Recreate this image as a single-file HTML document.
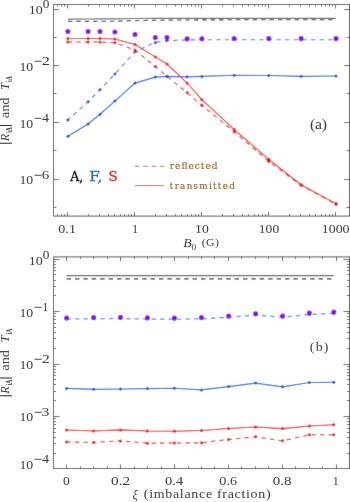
<!DOCTYPE html>
<html><head><meta charset="utf-8"><style>
html,body{margin:0;padding:0;background:#fff;}
body{width:350px;height:502px;overflow:hidden;}
svg{display:block;}
</style></head><body>
<svg width="350" height="502" viewBox="0 0 350 502"><defs><filter id="bl" x="0" y="0" width="100%" height="100%" filterUnits="userSpaceOnUse"><feConvolveMatrix order="3" kernelMatrix="0.015 0.055 0.015 0.055 0.72 0.055 0.015 0.055 0.015" edgeMode="duplicate" preserveAlpha="true"/></filter></defs><rect width="350" height="502" fill="#fff"/><g filter="url(#bl)"><rect width="350" height="502" fill="#fff"/><rect x="53.5" y="4.5" width="296.0" height="211.6" fill="none" stroke="#555" stroke-width="1"/>
<line x1="53.50" y1="9.50" x2="59.00" y2="9.50" stroke="#555" stroke-width="1.0" />
<line x1="349.50" y1="9.50" x2="344.00" y2="9.50" stroke="#555" stroke-width="1.0" />
<line x1="53.50" y1="37.50" x2="56.50" y2="37.50" stroke="#555" stroke-width="1.0" />
<line x1="349.50" y1="37.50" x2="346.50" y2="37.50" stroke="#555" stroke-width="1.0" />
<line x1="53.50" y1="65.50" x2="59.00" y2="65.50" stroke="#555" stroke-width="1.0" />
<line x1="349.50" y1="65.50" x2="344.00" y2="65.50" stroke="#555" stroke-width="1.0" />
<line x1="53.50" y1="93.50" x2="56.50" y2="93.50" stroke="#555" stroke-width="1.0" />
<line x1="349.50" y1="93.50" x2="346.50" y2="93.50" stroke="#555" stroke-width="1.0" />
<line x1="53.50" y1="122.50" x2="59.00" y2="122.50" stroke="#555" stroke-width="1.0" />
<line x1="349.50" y1="122.50" x2="344.00" y2="122.50" stroke="#555" stroke-width="1.0" />
<line x1="53.50" y1="150.50" x2="56.50" y2="150.50" stroke="#555" stroke-width="1.0" />
<line x1="349.50" y1="150.50" x2="346.50" y2="150.50" stroke="#555" stroke-width="1.0" />
<line x1="53.50" y1="179.50" x2="59.00" y2="179.50" stroke="#555" stroke-width="1.0" />
<line x1="349.50" y1="179.50" x2="344.00" y2="179.50" stroke="#555" stroke-width="1.0" />
<line x1="53.50" y1="207.50" x2="56.50" y2="207.50" stroke="#555" stroke-width="1.0" />
<line x1="349.50" y1="207.50" x2="346.50" y2="207.50" stroke="#555" stroke-width="1.0" />
<line x1="57.50" y1="216.10" x2="57.50" y2="214.10" stroke="#555" stroke-width="1.0" />
<line x1="57.50" y1="4.50" x2="57.50" y2="6.50" stroke="#555" stroke-width="1.0" />
<line x1="61.50" y1="216.10" x2="61.50" y2="214.10" stroke="#555" stroke-width="1.0" />
<line x1="61.50" y1="4.50" x2="61.50" y2="6.50" stroke="#555" stroke-width="1.0" />
<line x1="64.50" y1="216.10" x2="64.50" y2="214.10" stroke="#555" stroke-width="1.0" />
<line x1="64.50" y1="4.50" x2="64.50" y2="6.50" stroke="#555" stroke-width="1.0" />
<line x1="67.50" y1="216.10" x2="67.50" y2="212.10" stroke="#555" stroke-width="1.0" />
<line x1="67.50" y1="4.50" x2="67.50" y2="8.50" stroke="#555" stroke-width="1.0" />
<line x1="88.50" y1="216.10" x2="88.50" y2="214.10" stroke="#555" stroke-width="1.0" />
<line x1="88.50" y1="4.50" x2="88.50" y2="6.50" stroke="#555" stroke-width="1.0" />
<line x1="99.50" y1="216.10" x2="99.50" y2="214.10" stroke="#555" stroke-width="1.0" />
<line x1="99.50" y1="4.50" x2="99.50" y2="6.50" stroke="#555" stroke-width="1.0" />
<line x1="108.50" y1="216.10" x2="108.50" y2="214.10" stroke="#555" stroke-width="1.0" />
<line x1="108.50" y1="4.50" x2="108.50" y2="6.50" stroke="#555" stroke-width="1.0" />
<line x1="114.50" y1="216.10" x2="114.50" y2="214.10" stroke="#555" stroke-width="1.0" />
<line x1="114.50" y1="4.50" x2="114.50" y2="6.50" stroke="#555" stroke-width="1.0" />
<line x1="120.50" y1="216.10" x2="120.50" y2="214.10" stroke="#555" stroke-width="1.0" />
<line x1="120.50" y1="4.50" x2="120.50" y2="6.50" stroke="#555" stroke-width="1.0" />
<line x1="124.50" y1="216.10" x2="124.50" y2="214.10" stroke="#555" stroke-width="1.0" />
<line x1="124.50" y1="4.50" x2="124.50" y2="6.50" stroke="#555" stroke-width="1.0" />
<line x1="128.50" y1="216.10" x2="128.50" y2="214.10" stroke="#555" stroke-width="1.0" />
<line x1="128.50" y1="4.50" x2="128.50" y2="6.50" stroke="#555" stroke-width="1.0" />
<line x1="131.50" y1="216.10" x2="131.50" y2="214.10" stroke="#555" stroke-width="1.0" />
<line x1="131.50" y1="4.50" x2="131.50" y2="6.50" stroke="#555" stroke-width="1.0" />
<line x1="134.50" y1="216.10" x2="134.50" y2="212.10" stroke="#555" stroke-width="1.0" />
<line x1="134.50" y1="4.50" x2="134.50" y2="8.50" stroke="#555" stroke-width="1.0" />
<line x1="155.50" y1="216.10" x2="155.50" y2="214.10" stroke="#555" stroke-width="1.0" />
<line x1="155.50" y1="4.50" x2="155.50" y2="6.50" stroke="#555" stroke-width="1.0" />
<line x1="166.50" y1="216.10" x2="166.50" y2="214.10" stroke="#555" stroke-width="1.0" />
<line x1="166.50" y1="4.50" x2="166.50" y2="6.50" stroke="#555" stroke-width="1.0" />
<line x1="175.50" y1="216.10" x2="175.50" y2="214.10" stroke="#555" stroke-width="1.0" />
<line x1="175.50" y1="4.50" x2="175.50" y2="6.50" stroke="#555" stroke-width="1.0" />
<line x1="181.50" y1="216.10" x2="181.50" y2="214.10" stroke="#555" stroke-width="1.0" />
<line x1="181.50" y1="4.50" x2="181.50" y2="6.50" stroke="#555" stroke-width="1.0" />
<line x1="187.50" y1="216.10" x2="187.50" y2="214.10" stroke="#555" stroke-width="1.0" />
<line x1="187.50" y1="4.50" x2="187.50" y2="6.50" stroke="#555" stroke-width="1.0" />
<line x1="191.50" y1="216.10" x2="191.50" y2="214.10" stroke="#555" stroke-width="1.0" />
<line x1="191.50" y1="4.50" x2="191.50" y2="6.50" stroke="#555" stroke-width="1.0" />
<line x1="195.50" y1="216.10" x2="195.50" y2="214.10" stroke="#555" stroke-width="1.0" />
<line x1="195.50" y1="4.50" x2="195.50" y2="6.50" stroke="#555" stroke-width="1.0" />
<line x1="198.50" y1="216.10" x2="198.50" y2="214.10" stroke="#555" stroke-width="1.0" />
<line x1="198.50" y1="4.50" x2="198.50" y2="6.50" stroke="#555" stroke-width="1.0" />
<line x1="201.50" y1="216.10" x2="201.50" y2="212.10" stroke="#555" stroke-width="1.0" />
<line x1="201.50" y1="4.50" x2="201.50" y2="8.50" stroke="#555" stroke-width="1.0" />
<line x1="222.50" y1="216.10" x2="222.50" y2="214.10" stroke="#555" stroke-width="1.0" />
<line x1="222.50" y1="4.50" x2="222.50" y2="6.50" stroke="#555" stroke-width="1.0" />
<line x1="233.50" y1="216.10" x2="233.50" y2="214.10" stroke="#555" stroke-width="1.0" />
<line x1="233.50" y1="4.50" x2="233.50" y2="6.50" stroke="#555" stroke-width="1.0" />
<line x1="242.50" y1="216.10" x2="242.50" y2="214.10" stroke="#555" stroke-width="1.0" />
<line x1="242.50" y1="4.50" x2="242.50" y2="6.50" stroke="#555" stroke-width="1.0" />
<line x1="248.50" y1="216.10" x2="248.50" y2="214.10" stroke="#555" stroke-width="1.0" />
<line x1="248.50" y1="4.50" x2="248.50" y2="6.50" stroke="#555" stroke-width="1.0" />
<line x1="254.50" y1="216.10" x2="254.50" y2="214.10" stroke="#555" stroke-width="1.0" />
<line x1="254.50" y1="4.50" x2="254.50" y2="6.50" stroke="#555" stroke-width="1.0" />
<line x1="258.50" y1="216.10" x2="258.50" y2="214.10" stroke="#555" stroke-width="1.0" />
<line x1="258.50" y1="4.50" x2="258.50" y2="6.50" stroke="#555" stroke-width="1.0" />
<line x1="262.50" y1="216.10" x2="262.50" y2="214.10" stroke="#555" stroke-width="1.0" />
<line x1="262.50" y1="4.50" x2="262.50" y2="6.50" stroke="#555" stroke-width="1.0" />
<line x1="265.50" y1="216.10" x2="265.50" y2="214.10" stroke="#555" stroke-width="1.0" />
<line x1="265.50" y1="4.50" x2="265.50" y2="6.50" stroke="#555" stroke-width="1.0" />
<line x1="268.50" y1="216.10" x2="268.50" y2="212.10" stroke="#555" stroke-width="1.0" />
<line x1="268.50" y1="4.50" x2="268.50" y2="8.50" stroke="#555" stroke-width="1.0" />
<line x1="289.50" y1="216.10" x2="289.50" y2="214.10" stroke="#555" stroke-width="1.0" />
<line x1="289.50" y1="4.50" x2="289.50" y2="6.50" stroke="#555" stroke-width="1.0" />
<line x1="300.50" y1="216.10" x2="300.50" y2="214.10" stroke="#555" stroke-width="1.0" />
<line x1="300.50" y1="4.50" x2="300.50" y2="6.50" stroke="#555" stroke-width="1.0" />
<line x1="309.50" y1="216.10" x2="309.50" y2="214.10" stroke="#555" stroke-width="1.0" />
<line x1="309.50" y1="4.50" x2="309.50" y2="6.50" stroke="#555" stroke-width="1.0" />
<line x1="315.50" y1="216.10" x2="315.50" y2="214.10" stroke="#555" stroke-width="1.0" />
<line x1="315.50" y1="4.50" x2="315.50" y2="6.50" stroke="#555" stroke-width="1.0" />
<line x1="321.50" y1="216.10" x2="321.50" y2="214.10" stroke="#555" stroke-width="1.0" />
<line x1="321.50" y1="4.50" x2="321.50" y2="6.50" stroke="#555" stroke-width="1.0" />
<line x1="325.50" y1="216.10" x2="325.50" y2="214.10" stroke="#555" stroke-width="1.0" />
<line x1="325.50" y1="4.50" x2="325.50" y2="6.50" stroke="#555" stroke-width="1.0" />
<line x1="329.50" y1="216.10" x2="329.50" y2="214.10" stroke="#555" stroke-width="1.0" />
<line x1="329.50" y1="4.50" x2="329.50" y2="6.50" stroke="#555" stroke-width="1.0" />
<line x1="332.50" y1="216.10" x2="332.50" y2="214.10" stroke="#555" stroke-width="1.0" />
<line x1="332.50" y1="4.50" x2="332.50" y2="6.50" stroke="#555" stroke-width="1.0" />
<line x1="335.50" y1="216.10" x2="335.50" y2="212.10" stroke="#555" stroke-width="1.0" />
<line x1="335.50" y1="4.50" x2="335.50" y2="8.50" stroke="#555" stroke-width="1.0" />
<rect x="53.5" y="256.9" width="296.0" height="211.60000000000002" fill="none" stroke="#555" stroke-width="1"/>
<line x1="53.50" y1="259.50" x2="59.50" y2="259.50" stroke="#555" stroke-width="1.0" />
<line x1="349.50" y1="259.50" x2="343.50" y2="259.50" stroke="#555" stroke-width="1.0" />
<line x1="53.50" y1="311.50" x2="59.50" y2="311.50" stroke="#555" stroke-width="1.0" />
<line x1="349.50" y1="311.50" x2="343.50" y2="311.50" stroke="#555" stroke-width="1.0" />
<line x1="53.50" y1="295.50" x2="56.00" y2="295.50" stroke="#555" stroke-width="1.0" />
<line x1="349.50" y1="295.50" x2="347.00" y2="295.50" stroke="#555" stroke-width="1.0" />
<line x1="53.50" y1="286.50" x2="56.00" y2="286.50" stroke="#555" stroke-width="1.0" />
<line x1="349.50" y1="286.50" x2="347.00" y2="286.50" stroke="#555" stroke-width="1.0" />
<line x1="53.50" y1="280.50" x2="56.00" y2="280.50" stroke="#555" stroke-width="1.0" />
<line x1="349.50" y1="280.50" x2="347.00" y2="280.50" stroke="#555" stroke-width="1.0" />
<line x1="53.50" y1="274.50" x2="56.00" y2="274.50" stroke="#555" stroke-width="1.0" />
<line x1="349.50" y1="274.50" x2="347.00" y2="274.50" stroke="#555" stroke-width="1.0" />
<line x1="53.50" y1="270.50" x2="56.00" y2="270.50" stroke="#555" stroke-width="1.0" />
<line x1="349.50" y1="270.50" x2="347.00" y2="270.50" stroke="#555" stroke-width="1.0" />
<line x1="53.50" y1="267.50" x2="56.00" y2="267.50" stroke="#555" stroke-width="1.0" />
<line x1="349.50" y1="267.50" x2="347.00" y2="267.50" stroke="#555" stroke-width="1.0" />
<line x1="53.50" y1="264.50" x2="56.00" y2="264.50" stroke="#555" stroke-width="1.0" />
<line x1="349.50" y1="264.50" x2="347.00" y2="264.50" stroke="#555" stroke-width="1.0" />
<line x1="53.50" y1="261.50" x2="56.00" y2="261.50" stroke="#555" stroke-width="1.0" />
<line x1="349.50" y1="261.50" x2="347.00" y2="261.50" stroke="#555" stroke-width="1.0" />
<line x1="53.50" y1="364.50" x2="59.50" y2="364.50" stroke="#555" stroke-width="1.0" />
<line x1="349.50" y1="364.50" x2="343.50" y2="364.50" stroke="#555" stroke-width="1.0" />
<line x1="53.50" y1="348.50" x2="56.00" y2="348.50" stroke="#555" stroke-width="1.0" />
<line x1="349.50" y1="348.50" x2="347.00" y2="348.50" stroke="#555" stroke-width="1.0" />
<line x1="53.50" y1="338.50" x2="56.00" y2="338.50" stroke="#555" stroke-width="1.0" />
<line x1="349.50" y1="338.50" x2="347.00" y2="338.50" stroke="#555" stroke-width="1.0" />
<line x1="53.50" y1="332.50" x2="56.00" y2="332.50" stroke="#555" stroke-width="1.0" />
<line x1="349.50" y1="332.50" x2="347.00" y2="332.50" stroke="#555" stroke-width="1.0" />
<line x1="53.50" y1="327.50" x2="56.00" y2="327.50" stroke="#555" stroke-width="1.0" />
<line x1="349.50" y1="327.50" x2="347.00" y2="327.50" stroke="#555" stroke-width="1.0" />
<line x1="53.50" y1="323.50" x2="56.00" y2="323.50" stroke="#555" stroke-width="1.0" />
<line x1="349.50" y1="323.50" x2="347.00" y2="323.50" stroke="#555" stroke-width="1.0" />
<line x1="53.50" y1="319.50" x2="56.00" y2="319.50" stroke="#555" stroke-width="1.0" />
<line x1="349.50" y1="319.50" x2="347.00" y2="319.50" stroke="#555" stroke-width="1.0" />
<line x1="53.50" y1="316.50" x2="56.00" y2="316.50" stroke="#555" stroke-width="1.0" />
<line x1="349.50" y1="316.50" x2="347.00" y2="316.50" stroke="#555" stroke-width="1.0" />
<line x1="53.50" y1="313.50" x2="56.00" y2="313.50" stroke="#555" stroke-width="1.0" />
<line x1="349.50" y1="313.50" x2="347.00" y2="313.50" stroke="#555" stroke-width="1.0" />
<line x1="53.50" y1="416.50" x2="59.50" y2="416.50" stroke="#555" stroke-width="1.0" />
<line x1="349.50" y1="416.50" x2="343.50" y2="416.50" stroke="#555" stroke-width="1.0" />
<line x1="53.50" y1="400.50" x2="56.00" y2="400.50" stroke="#555" stroke-width="1.0" />
<line x1="349.50" y1="400.50" x2="347.00" y2="400.50" stroke="#555" stroke-width="1.0" />
<line x1="53.50" y1="391.50" x2="56.00" y2="391.50" stroke="#555" stroke-width="1.0" />
<line x1="349.50" y1="391.50" x2="347.00" y2="391.50" stroke="#555" stroke-width="1.0" />
<line x1="53.50" y1="384.50" x2="56.00" y2="384.50" stroke="#555" stroke-width="1.0" />
<line x1="349.50" y1="384.50" x2="347.00" y2="384.50" stroke="#555" stroke-width="1.0" />
<line x1="53.50" y1="379.50" x2="56.00" y2="379.50" stroke="#555" stroke-width="1.0" />
<line x1="349.50" y1="379.50" x2="347.00" y2="379.50" stroke="#555" stroke-width="1.0" />
<line x1="53.50" y1="375.50" x2="56.00" y2="375.50" stroke="#555" stroke-width="1.0" />
<line x1="349.50" y1="375.50" x2="347.00" y2="375.50" stroke="#555" stroke-width="1.0" />
<line x1="53.50" y1="372.50" x2="56.00" y2="372.50" stroke="#555" stroke-width="1.0" />
<line x1="349.50" y1="372.50" x2="347.00" y2="372.50" stroke="#555" stroke-width="1.0" />
<line x1="53.50" y1="369.50" x2="56.00" y2="369.50" stroke="#555" stroke-width="1.0" />
<line x1="349.50" y1="369.50" x2="347.00" y2="369.50" stroke="#555" stroke-width="1.0" />
<line x1="53.50" y1="366.50" x2="56.00" y2="366.50" stroke="#555" stroke-width="1.0" />
<line x1="349.50" y1="366.50" x2="347.00" y2="366.50" stroke="#555" stroke-width="1.0" />
<line x1="53.50" y1="453.50" x2="56.00" y2="453.50" stroke="#555" stroke-width="1.0" />
<line x1="349.50" y1="453.50" x2="347.00" y2="453.50" stroke="#555" stroke-width="1.0" />
<line x1="53.50" y1="443.50" x2="56.00" y2="443.50" stroke="#555" stroke-width="1.0" />
<line x1="349.50" y1="443.50" x2="347.00" y2="443.50" stroke="#555" stroke-width="1.0" />
<line x1="53.50" y1="437.50" x2="56.00" y2="437.50" stroke="#555" stroke-width="1.0" />
<line x1="349.50" y1="437.50" x2="347.00" y2="437.50" stroke="#555" stroke-width="1.0" />
<line x1="53.50" y1="432.50" x2="56.00" y2="432.50" stroke="#555" stroke-width="1.0" />
<line x1="349.50" y1="432.50" x2="347.00" y2="432.50" stroke="#555" stroke-width="1.0" />
<line x1="53.50" y1="428.50" x2="56.00" y2="428.50" stroke="#555" stroke-width="1.0" />
<line x1="349.50" y1="428.50" x2="347.00" y2="428.50" stroke="#555" stroke-width="1.0" />
<line x1="53.50" y1="424.50" x2="56.00" y2="424.50" stroke="#555" stroke-width="1.0" />
<line x1="349.50" y1="424.50" x2="347.00" y2="424.50" stroke="#555" stroke-width="1.0" />
<line x1="53.50" y1="421.50" x2="56.00" y2="421.50" stroke="#555" stroke-width="1.0" />
<line x1="349.50" y1="421.50" x2="347.00" y2="421.50" stroke="#555" stroke-width="1.0" />
<line x1="53.50" y1="418.50" x2="56.00" y2="418.50" stroke="#555" stroke-width="1.0" />
<line x1="349.50" y1="418.50" x2="347.00" y2="418.50" stroke="#555" stroke-width="1.0" />
<line x1="66.50" y1="468.50" x2="66.50" y2="464.50" stroke="#555" stroke-width="1.0" />
<line x1="66.50" y1="256.90" x2="66.50" y2="260.90" stroke="#555" stroke-width="1.0" />
<line x1="80.50" y1="468.50" x2="80.50" y2="466.50" stroke="#555" stroke-width="1.0" />
<line x1="80.50" y1="256.90" x2="80.50" y2="258.90" stroke="#555" stroke-width="1.0" />
<line x1="93.50" y1="468.50" x2="93.50" y2="466.50" stroke="#555" stroke-width="1.0" />
<line x1="93.50" y1="256.90" x2="93.50" y2="258.90" stroke="#555" stroke-width="1.0" />
<line x1="107.50" y1="468.50" x2="107.50" y2="466.50" stroke="#555" stroke-width="1.0" />
<line x1="107.50" y1="256.90" x2="107.50" y2="258.90" stroke="#555" stroke-width="1.0" />
<line x1="120.50" y1="468.50" x2="120.50" y2="464.50" stroke="#555" stroke-width="1.0" />
<line x1="120.50" y1="256.90" x2="120.50" y2="260.90" stroke="#555" stroke-width="1.0" />
<line x1="134.50" y1="468.50" x2="134.50" y2="466.50" stroke="#555" stroke-width="1.0" />
<line x1="134.50" y1="256.90" x2="134.50" y2="258.90" stroke="#555" stroke-width="1.0" />
<line x1="147.50" y1="468.50" x2="147.50" y2="466.50" stroke="#555" stroke-width="1.0" />
<line x1="147.50" y1="256.90" x2="147.50" y2="258.90" stroke="#555" stroke-width="1.0" />
<line x1="161.50" y1="468.50" x2="161.50" y2="466.50" stroke="#555" stroke-width="1.0" />
<line x1="161.50" y1="256.90" x2="161.50" y2="258.90" stroke="#555" stroke-width="1.0" />
<line x1="174.50" y1="468.50" x2="174.50" y2="464.50" stroke="#555" stroke-width="1.0" />
<line x1="174.50" y1="256.90" x2="174.50" y2="260.90" stroke="#555" stroke-width="1.0" />
<line x1="188.50" y1="468.50" x2="188.50" y2="466.50" stroke="#555" stroke-width="1.0" />
<line x1="188.50" y1="256.90" x2="188.50" y2="258.90" stroke="#555" stroke-width="1.0" />
<line x1="201.50" y1="468.50" x2="201.50" y2="466.50" stroke="#555" stroke-width="1.0" />
<line x1="201.50" y1="256.90" x2="201.50" y2="258.90" stroke="#555" stroke-width="1.0" />
<line x1="214.50" y1="468.50" x2="214.50" y2="466.50" stroke="#555" stroke-width="1.0" />
<line x1="214.50" y1="256.90" x2="214.50" y2="258.90" stroke="#555" stroke-width="1.0" />
<line x1="228.50" y1="468.50" x2="228.50" y2="464.50" stroke="#555" stroke-width="1.0" />
<line x1="228.50" y1="256.90" x2="228.50" y2="260.90" stroke="#555" stroke-width="1.0" />
<line x1="241.50" y1="468.50" x2="241.50" y2="466.50" stroke="#555" stroke-width="1.0" />
<line x1="241.50" y1="256.90" x2="241.50" y2="258.90" stroke="#555" stroke-width="1.0" />
<line x1="255.50" y1="468.50" x2="255.50" y2="466.50" stroke="#555" stroke-width="1.0" />
<line x1="255.50" y1="256.90" x2="255.50" y2="258.90" stroke="#555" stroke-width="1.0" />
<line x1="268.50" y1="468.50" x2="268.50" y2="466.50" stroke="#555" stroke-width="1.0" />
<line x1="268.50" y1="256.90" x2="268.50" y2="258.90" stroke="#555" stroke-width="1.0" />
<line x1="282.50" y1="468.50" x2="282.50" y2="464.50" stroke="#555" stroke-width="1.0" />
<line x1="282.50" y1="256.90" x2="282.50" y2="260.90" stroke="#555" stroke-width="1.0" />
<line x1="295.50" y1="468.50" x2="295.50" y2="466.50" stroke="#555" stroke-width="1.0" />
<line x1="295.50" y1="256.90" x2="295.50" y2="258.90" stroke="#555" stroke-width="1.0" />
<line x1="309.50" y1="468.50" x2="309.50" y2="466.50" stroke="#555" stroke-width="1.0" />
<line x1="309.50" y1="256.90" x2="309.50" y2="258.90" stroke="#555" stroke-width="1.0" />
<line x1="322.50" y1="468.50" x2="322.50" y2="466.50" stroke="#555" stroke-width="1.0" />
<line x1="322.50" y1="256.90" x2="322.50" y2="258.90" stroke="#555" stroke-width="1.0" />
<line x1="336.50" y1="468.50" x2="336.50" y2="464.50" stroke="#555" stroke-width="1.0" />
<line x1="336.50" y1="256.90" x2="336.50" y2="260.90" stroke="#555" stroke-width="1.0" />
<polyline points="67.90,21.40 88.10,21.40 100.00,21.30 114.90,21.20 135.00,20.60 155.30,20.30 167.00,20.10 187.10,20.00 201.90,19.90 234.10,19.80 268.80,19.80 301.10,19.70 336.00,19.70" fill="none" stroke="#404040" stroke-width="1.1" stroke-dasharray="4.4,4.0" stroke-opacity="1.0"/>
<polyline points="67.90,120.00 88.10,101.70 100.00,89.70 114.90,74.00 135.00,51.70 155.30,42.40 167.00,40.60 187.10,40.00 201.90,39.70 234.10,39.70 268.80,39.70 301.10,39.70 336.00,39.70" fill="none" stroke="#3f80f6" stroke-width="1.15" stroke-dasharray="4.3,4.3" stroke-dashoffset="1.3" stroke-opacity="1.0"/>
<circle cx="67.90" cy="120.00" r="1.5" fill="#1a55f0"/>
<circle cx="88.10" cy="101.70" r="1.5" fill="#1a55f0"/>
<circle cx="100.00" cy="89.70" r="1.5" fill="#1a55f0"/>
<circle cx="114.90" cy="74.00" r="1.5" fill="#1a55f0"/>
<circle cx="135.00" cy="51.70" r="1.5" fill="#1a55f0"/>
<circle cx="155.30" cy="42.40" r="1.5" fill="#1a55f0"/>
<circle cx="167.00" cy="40.60" r="1.5" fill="#1a55f0"/>
<circle cx="187.10" cy="40.00" r="1.5" fill="#1a55f0"/>
<circle cx="201.90" cy="39.70" r="1.5" fill="#1a55f0"/>
<circle cx="234.10" cy="39.70" r="1.5" fill="#1a55f0"/>
<circle cx="268.80" cy="39.70" r="1.5" fill="#1a55f0"/>
<circle cx="301.10" cy="39.70" r="1.5" fill="#1a55f0"/>
<circle cx="336.00" cy="39.70" r="1.5" fill="#1a55f0"/>
<polyline points="67.90,42.00 88.10,42.00 100.00,42.10 114.90,42.80 135.00,50.00 155.30,66.50 167.00,76.30 187.10,92.70 201.90,105.30 234.10,131.70 268.80,161.50 301.10,185.30 336.00,204.30" fill="none" stroke="#ff1515" stroke-width="1.05" stroke-dasharray="4.3,4.2" stroke-opacity="1.0"/>
<circle cx="67.90" cy="42.00" r="1.5" fill="#ff0000"/>
<circle cx="88.10" cy="42.00" r="1.5" fill="#ff0000"/>
<circle cx="100.00" cy="42.10" r="1.5" fill="#ff0000"/>
<circle cx="114.90" cy="42.80" r="1.5" fill="#ff0000"/>
<circle cx="135.00" cy="50.00" r="1.5" fill="#ff0000"/>
<circle cx="155.30" cy="66.50" r="1.5" fill="#ff0000"/>
<circle cx="167.00" cy="76.30" r="1.5" fill="#ff0000"/>
<circle cx="187.10" cy="92.70" r="1.5" fill="#ff0000"/>
<circle cx="201.90" cy="105.30" r="1.5" fill="#ff0000"/>
<circle cx="234.10" cy="131.70" r="1.5" fill="#ff0000"/>
<circle cx="268.80" cy="161.50" r="1.5" fill="#ff0000"/>
<circle cx="301.10" cy="185.30" r="1.5" fill="#ff0000"/>
<circle cx="336.00" cy="204.30" r="1.5" fill="#ff0000"/>
<polyline points="67.90,19.10 88.10,19.00 100.00,18.90 114.90,18.80 135.00,18.50 155.30,18.40 167.00,18.30 187.10,18.30 201.90,18.30 234.10,18.30 268.80,18.30 301.10,18.30 336.00,18.30" fill="none" stroke="#6e6e6e" stroke-width="1.2" stroke-opacity="1.0"/>
<polyline points="67.90,136.30 88.10,124.00 100.00,114.30 114.90,101.10 135.00,83.10 155.30,77.10 167.00,76.40 187.10,76.80 201.90,76.40 234.10,75.30 268.80,75.50 301.10,76.30 336.00,76.00" fill="none" stroke="#2a6cf5" stroke-width="1.15" stroke-opacity="1.0"/>
<circle cx="67.90" cy="136.30" r="1.5" fill="#1a55f0"/>
<circle cx="88.10" cy="124.00" r="1.5" fill="#1a55f0"/>
<circle cx="100.00" cy="114.30" r="1.5" fill="#1a55f0"/>
<circle cx="114.90" cy="101.10" r="1.5" fill="#1a55f0"/>
<circle cx="135.00" cy="83.10" r="1.5" fill="#1a55f0"/>
<circle cx="155.30" cy="77.10" r="1.5" fill="#1a55f0"/>
<circle cx="167.00" cy="76.40" r="1.5" fill="#1a55f0"/>
<circle cx="187.10" cy="76.80" r="1.5" fill="#1a55f0"/>
<circle cx="201.90" cy="76.40" r="1.5" fill="#1a55f0"/>
<circle cx="234.10" cy="75.30" r="1.5" fill="#1a55f0"/>
<circle cx="268.80" cy="75.50" r="1.5" fill="#1a55f0"/>
<circle cx="301.10" cy="76.30" r="1.5" fill="#1a55f0"/>
<circle cx="336.00" cy="76.00" r="1.5" fill="#1a55f0"/>
<polyline points="67.90,38.50 88.10,38.50 100.00,38.60 114.90,39.00 135.00,44.60 155.30,56.90 167.00,64.00 187.10,83.00 201.90,99.70 234.10,129.40 268.80,159.30 301.10,184.70 336.00,203.60" fill="none" stroke="#ff1a1a" stroke-width="1.05" stroke-opacity="1.0"/>
<circle cx="67.90" cy="38.50" r="1.5" fill="#ff0000"/>
<circle cx="88.10" cy="38.50" r="1.5" fill="#ff0000"/>
<circle cx="100.00" cy="38.60" r="1.5" fill="#ff0000"/>
<circle cx="114.90" cy="39.00" r="1.5" fill="#ff0000"/>
<circle cx="135.00" cy="44.60" r="1.5" fill="#ff0000"/>
<circle cx="155.30" cy="56.90" r="1.5" fill="#ff0000"/>
<circle cx="167.00" cy="64.00" r="1.5" fill="#ff0000"/>
<circle cx="187.10" cy="83.00" r="1.5" fill="#ff0000"/>
<circle cx="201.90" cy="99.70" r="1.5" fill="#ff0000"/>
<circle cx="234.10" cy="129.40" r="1.5" fill="#ff0000"/>
<circle cx="268.80" cy="159.30" r="1.5" fill="#ff0000"/>
<circle cx="301.10" cy="184.70" r="1.5" fill="#ff0000"/>
<circle cx="336.00" cy="203.60" r="1.5" fill="#ff0000"/>
<circle cx="67.90" cy="31.40" r="2.5" fill="#8f00ff"/>
<circle cx="88.10" cy="31.40" r="2.5" fill="#8f00ff"/>
<circle cx="100.00" cy="31.50" r="2.5" fill="#8f00ff"/>
<circle cx="114.90" cy="32.10" r="2.5" fill="#8f00ff"/>
<circle cx="135.00" cy="34.60" r="2.5" fill="#8f00ff"/>
<circle cx="155.30" cy="37.40" r="2.5" fill="#8f00ff"/>
<circle cx="167.00" cy="37.60" r="2.5" fill="#8f00ff"/>
<circle cx="187.10" cy="38.70" r="2.5" fill="#8f00ff"/>
<circle cx="201.90" cy="38.70" r="2.5" fill="#8f00ff"/>
<circle cx="234.10" cy="38.60" r="2.5" fill="#8f00ff"/>
<circle cx="268.80" cy="38.60" r="2.5" fill="#8f00ff"/>
<circle cx="301.10" cy="38.60" r="2.5" fill="#8f00ff"/>
<circle cx="336.00" cy="38.60" r="2.5" fill="#8f00ff"/>
<polyline points="66.60,278.90 93.60,278.90 120.50,278.90 147.40,278.90 174.40,278.90 201.40,278.90 228.60,278.90 255.60,278.90 282.60,278.90 309.30,278.90 333.80,278.90" fill="none" stroke="#333333" stroke-width="1.1" stroke-dasharray="4.4,4.0" stroke-opacity="1.0"/>
<polyline points="66.60,319.00 93.60,318.80 120.50,318.60 147.40,319.00 174.40,319.20 201.40,318.80 228.60,317.20 255.60,315.00 282.60,317.20 309.30,314.40 333.80,313.40" fill="none" stroke="#5a95f5" stroke-width="1.3" stroke-dasharray="4.3,4.2" stroke-opacity="1.0"/>
<circle cx="66.60" cy="319.00" r="1.5" fill="#1a55f0"/>
<circle cx="93.60" cy="318.80" r="1.5" fill="#1a55f0"/>
<circle cx="120.50" cy="318.60" r="1.5" fill="#1a55f0"/>
<circle cx="147.40" cy="319.00" r="1.5" fill="#1a55f0"/>
<circle cx="174.40" cy="319.20" r="1.5" fill="#1a55f0"/>
<circle cx="201.40" cy="318.80" r="1.5" fill="#1a55f0"/>
<circle cx="228.60" cy="317.20" r="1.5" fill="#1a55f0"/>
<circle cx="255.60" cy="315.00" r="1.5" fill="#1a55f0"/>
<circle cx="282.60" cy="317.20" r="1.5" fill="#1a55f0"/>
<circle cx="309.30" cy="314.40" r="1.5" fill="#1a55f0"/>
<circle cx="333.80" cy="313.40" r="1.5" fill="#1a55f0"/>
<polyline points="66.60,442.00 93.60,442.40 120.50,440.90 147.40,443.20 174.40,443.00 201.40,442.80 228.60,439.40 255.60,436.80 282.60,440.80 309.30,434.80 333.80,434.80" fill="none" stroke="#ff1515" stroke-width="1.05" stroke-dasharray="4.3,4.2" stroke-opacity="1.0"/>
<circle cx="66.60" cy="442.00" r="1.5" fill="#ff0000"/>
<circle cx="93.60" cy="442.40" r="1.5" fill="#ff0000"/>
<circle cx="120.50" cy="440.90" r="1.5" fill="#ff0000"/>
<circle cx="147.40" cy="443.20" r="1.5" fill="#ff0000"/>
<circle cx="174.40" cy="443.00" r="1.5" fill="#ff0000"/>
<circle cx="201.40" cy="442.80" r="1.5" fill="#ff0000"/>
<circle cx="228.60" cy="439.40" r="1.5" fill="#ff0000"/>
<circle cx="255.60" cy="436.80" r="1.5" fill="#ff0000"/>
<circle cx="282.60" cy="440.80" r="1.5" fill="#ff0000"/>
<circle cx="309.30" cy="434.80" r="1.5" fill="#ff0000"/>
<circle cx="333.80" cy="434.80" r="1.5" fill="#ff0000"/>
<polyline points="66.60,275.60 93.60,275.60 120.50,275.60 147.40,275.60 174.40,275.60 201.40,275.60 228.60,275.60 255.60,275.60 282.60,275.60 309.30,275.60 333.80,275.60" fill="none" stroke="#5e5e5e" stroke-width="1.1" stroke-opacity="1.0"/>
<polyline points="66.60,388.40 93.60,389.30 120.50,389.00 147.40,388.60 174.40,388.30 201.40,389.90 228.60,386.60 255.60,383.10 282.60,386.80 309.30,382.50 333.80,382.20" fill="none" stroke="#2a6cf5" stroke-width="1.15" stroke-opacity="1.0"/>
<circle cx="66.60" cy="388.40" r="1.5" fill="#1a55f0"/>
<circle cx="93.60" cy="389.30" r="1.5" fill="#1a55f0"/>
<circle cx="120.50" cy="389.00" r="1.5" fill="#1a55f0"/>
<circle cx="147.40" cy="388.60" r="1.5" fill="#1a55f0"/>
<circle cx="174.40" cy="388.30" r="1.5" fill="#1a55f0"/>
<circle cx="201.40" cy="389.90" r="1.5" fill="#1a55f0"/>
<circle cx="228.60" cy="386.60" r="1.5" fill="#1a55f0"/>
<circle cx="255.60" cy="383.10" r="1.5" fill="#1a55f0"/>
<circle cx="282.60" cy="386.80" r="1.5" fill="#1a55f0"/>
<circle cx="309.30" cy="382.50" r="1.5" fill="#1a55f0"/>
<circle cx="333.80" cy="382.20" r="1.5" fill="#1a55f0"/>
<polyline points="66.60,430.00 93.60,431.00 120.50,429.90 147.40,431.00 174.40,431.30 201.40,430.40 228.60,428.40 255.60,427.10 282.60,428.60 309.30,425.90 333.80,424.80" fill="none" stroke="#ff1a1a" stroke-width="1.05" stroke-opacity="1.0"/>
<circle cx="66.60" cy="430.00" r="1.5" fill="#ff0000"/>
<circle cx="93.60" cy="431.00" r="1.5" fill="#ff0000"/>
<circle cx="120.50" cy="429.90" r="1.5" fill="#ff0000"/>
<circle cx="147.40" cy="431.00" r="1.5" fill="#ff0000"/>
<circle cx="174.40" cy="431.30" r="1.5" fill="#ff0000"/>
<circle cx="201.40" cy="430.40" r="1.5" fill="#ff0000"/>
<circle cx="228.60" cy="428.40" r="1.5" fill="#ff0000"/>
<circle cx="255.60" cy="427.10" r="1.5" fill="#ff0000"/>
<circle cx="282.60" cy="428.60" r="1.5" fill="#ff0000"/>
<circle cx="309.30" cy="425.90" r="1.5" fill="#ff0000"/>
<circle cx="333.80" cy="424.80" r="1.5" fill="#ff0000"/>
<circle cx="66.60" cy="318.00" r="2.5" fill="#8f00ff"/>
<circle cx="93.60" cy="317.60" r="2.5" fill="#8f00ff"/>
<circle cx="120.50" cy="317.30" r="2.5" fill="#8f00ff"/>
<circle cx="147.40" cy="317.80" r="2.5" fill="#8f00ff"/>
<circle cx="174.40" cy="318.00" r="2.5" fill="#8f00ff"/>
<circle cx="201.40" cy="317.50" r="2.5" fill="#8f00ff"/>
<circle cx="228.60" cy="315.90" r="2.5" fill="#8f00ff"/>
<circle cx="255.60" cy="313.70" r="2.5" fill="#8f00ff"/>
<circle cx="282.60" cy="316.00" r="2.5" fill="#8f00ff"/>
<circle cx="309.30" cy="313.00" r="2.5" fill="#8f00ff"/>
<circle cx="333.80" cy="312.00" r="2.5" fill="#8f00ff"/>
<line x1="134.90" y1="166.30" x2="164.30" y2="166.30" stroke="#b8783c" stroke-width="1.0" stroke-dasharray="4.4,4"/>
<line x1="134.90" y1="185.60" x2="164.00" y2="185.60" stroke="#b8783c" stroke-width="1.0" /></g><text x="28.74" y="14.05" font-size="12.35" fill="#3c3c3c" font-family="'Liberation Serif', serif" textLength="14.02" lengthAdjust="spacingAndGlyphs" >10</text>
<text x="42.87" y="8.17" font-size="11.49" fill="#3c3c3c" font-family="'Liberation Serif', serif" textLength="6.67" lengthAdjust="spacingAndGlyphs" >0</text>
<text x="19.46" y="70.83" font-size="12.35" fill="#3c3c3c" font-family="'Liberation Serif', serif" textLength="13.79" lengthAdjust="spacingAndGlyphs" >10</text>
<text x="33.63" y="67.11" font-size="18.00" fill="#3c3c3c" font-family="'Liberation Serif', serif" textLength="8.64" lengthAdjust="spacingAndGlyphs" >&#8722;</text>
<text x="41.75" y="65.18" font-size="11.85" fill="#3c3c3c" font-family="'Liberation Serif', serif" textLength="8.12" lengthAdjust="spacingAndGlyphs" >2</text>
<text x="19.46" y="127.61" font-size="12.35" fill="#3c3c3c" font-family="'Liberation Serif', serif" textLength="13.79" lengthAdjust="spacingAndGlyphs" >10</text>
<text x="33.63" y="123.89" font-size="18.00" fill="#3c3c3c" font-family="'Liberation Serif', serif" textLength="8.64" lengthAdjust="spacingAndGlyphs" >&#8722;</text>
<text x="42.12" y="121.96" font-size="11.85" fill="#3c3c3c" font-family="'Liberation Serif', serif" textLength="7.07" lengthAdjust="spacingAndGlyphs" >4</text>
<text x="19.46" y="184.39" font-size="12.35" fill="#3c3c3c" font-family="'Liberation Serif', serif" textLength="13.79" lengthAdjust="spacingAndGlyphs" >10</text>
<text x="33.63" y="180.67" font-size="18.00" fill="#3c3c3c" font-family="'Liberation Serif', serif" textLength="8.64" lengthAdjust="spacingAndGlyphs" >&#8722;</text>
<text x="41.80" y="178.51" font-size="11.49" fill="#3c3c3c" font-family="'Liberation Serif', serif" textLength="7.56" lengthAdjust="spacingAndGlyphs" >6</text>
<text x="28.74" y="265.25" font-size="12.35" fill="#3c3c3c" font-family="'Liberation Serif', serif" textLength="14.02" lengthAdjust="spacingAndGlyphs" >10</text>
<text x="42.87" y="259.37" font-size="11.49" fill="#3c3c3c" font-family="'Liberation Serif', serif" textLength="6.67" lengthAdjust="spacingAndGlyphs" >0</text>
<text x="19.46" y="316.65" font-size="12.35" fill="#3c3c3c" font-family="'Liberation Serif', serif" textLength="13.79" lengthAdjust="spacingAndGlyphs" >10</text>
<text x="33.63" y="312.93" font-size="18.00" fill="#3c3c3c" font-family="'Liberation Serif', serif" textLength="8.64" lengthAdjust="spacingAndGlyphs" >&#8722;</text>
<text x="42.57" y="311.00" font-size="11.67" fill="#3c3c3c" font-family="'Liberation Serif', serif" textLength="5.71" lengthAdjust="spacingAndGlyphs" >1</text>
<text x="19.46" y="369.05" font-size="12.35" fill="#3c3c3c" font-family="'Liberation Serif', serif" textLength="13.79" lengthAdjust="spacingAndGlyphs" >10</text>
<text x="33.63" y="365.33" font-size="18.00" fill="#3c3c3c" font-family="'Liberation Serif', serif" textLength="8.64" lengthAdjust="spacingAndGlyphs" >&#8722;</text>
<text x="41.75" y="363.40" font-size="11.85" fill="#3c3c3c" font-family="'Liberation Serif', serif" textLength="8.12" lengthAdjust="spacingAndGlyphs" >2</text>
<text x="19.46" y="421.45" font-size="12.35" fill="#3c3c3c" font-family="'Liberation Serif', serif" textLength="13.79" lengthAdjust="spacingAndGlyphs" >10</text>
<text x="33.63" y="417.73" font-size="18.00" fill="#3c3c3c" font-family="'Liberation Serif', serif" textLength="8.64" lengthAdjust="spacingAndGlyphs" >&#8722;</text>
<text x="41.61" y="415.68" font-size="11.67" fill="#3c3c3c" font-family="'Liberation Serif', serif" textLength="7.93" lengthAdjust="spacingAndGlyphs" >3</text>
<text x="19.46" y="469.05" font-size="12.35" fill="#3c3c3c" font-family="'Liberation Serif', serif" textLength="13.79" lengthAdjust="spacingAndGlyphs" >10</text>
<text x="33.63" y="465.33" font-size="18.00" fill="#3c3c3c" font-family="'Liberation Serif', serif" textLength="8.64" lengthAdjust="spacingAndGlyphs" >&#8722;</text>
<text x="42.12" y="463.40" font-size="11.85" fill="#3c3c3c" font-family="'Liberation Serif', serif" textLength="7.07" lengthAdjust="spacingAndGlyphs" >4</text>
<text x="58.34" y="232.66" font-size="12.06" fill="#3c3c3c" font-family="'Liberation Serif', serif" textLength="17.61" lengthAdjust="spacingAndGlyphs" >0.1</text>
<text x="131.89" y="232.90" font-size="12.42" fill="#3c3c3c" font-family="'Liberation Serif', serif" textLength="6.14" lengthAdjust="spacingAndGlyphs" >1</text>
<text x="195.07" y="232.66" font-size="12.06" fill="#3c3c3c" font-family="'Liberation Serif', serif" textLength="13.68" lengthAdjust="spacingAndGlyphs" >10</text>
<text x="258.88" y="232.66" font-size="12.06" fill="#3c3c3c" font-family="'Liberation Serif', serif" textLength="20.26" lengthAdjust="spacingAndGlyphs" >100</text>
<text x="321.75" y="232.66" font-size="12.06" fill="#3c3c3c" font-family="'Liberation Serif', serif" textLength="27.81" lengthAdjust="spacingAndGlyphs" >1000</text>
<text x="62.96" y="485.15" font-size="12.54" fill="#3c3c3c" font-family="'Liberation Serif', serif" textLength="6.79" lengthAdjust="spacingAndGlyphs" >0</text>
<text x="111.09" y="485.15" font-size="12.54" fill="#3c3c3c" font-family="'Liberation Serif', serif" textLength="19.13" lengthAdjust="spacingAndGlyphs" >0.2</text>
<text x="165.12" y="485.15" font-size="12.54" fill="#3c3c3c" font-family="'Liberation Serif', serif" textLength="18.07" lengthAdjust="spacingAndGlyphs" >0.4</text>
<text x="219.33" y="485.15" font-size="12.54" fill="#3c3c3c" font-family="'Liberation Serif', serif" textLength="17.69" lengthAdjust="spacingAndGlyphs" >0.6</text>
<text x="272.80" y="485.15" font-size="12.54" fill="#3c3c3c" font-family="'Liberation Serif', serif" textLength="18.80" lengthAdjust="spacingAndGlyphs" >0.8</text>
<text x="332.72" y="485.40" font-size="12.73" fill="#3c3c3c" font-family="'Liberation Serif', serif" textLength="6.00" lengthAdjust="spacingAndGlyphs" >1</text>
<text x="183.16" y="246.60" font-size="12.62" fill="#3c3c3c" font-family="'Liberation Serif', serif" font-style="italic" textLength="8.43" lengthAdjust="spacingAndGlyphs" >B</text>
<text x="191.53" y="249.63" font-size="8.36" fill="#3c3c3c" font-family="'Liberation Serif', serif" textLength="4.64" lengthAdjust="spacingAndGlyphs" >0</text>
<text transform="translate(201.72,245.62) scale(1.05,1)" x="0" y="0" font-size="11.33" fill="#3c3c3c" font-family="'Liberation Serif', serif" textLength="16.49" lengthAdjust="spacing" >(G)</text>
<text x="132.62" y="498.62" font-size="13.22" fill="#3c3c3c" font-family="'Liberation Serif', serif" font-style="italic" textLength="5.35" lengthAdjust="spacingAndGlyphs" >&#958;</text>
<text transform="translate(143.84,497.98) scale(1.12,1)" x="0" y="0" font-size="12.50" fill="#3c3c3c" font-family="'Liberation Serif', serif" textLength="113.15" lengthAdjust="spacing" >(imbalance fraction)</text>
<text transform="translate(9.12,145.55) rotate(-90)" x="0" y="0" font-size="13.22" fill="#3c3c3c" font-family="'Liberation Serif', serif" textLength="4.51" lengthAdjust="spacingAndGlyphs">|</text>
<text transform="translate(9.12,127.65) rotate(-90)" x="0" y="0" font-size="13.22" fill="#3c3c3c" font-family="'Liberation Serif', serif" textLength="4.51" lengthAdjust="spacingAndGlyphs">|</text>
<text transform="translate(9.30,141.20) rotate(-90)" x="0" y="0" font-size="12.46" fill="#3a3a3a" font-family="'Liberation Serif', serif" font-style="italic" textLength="7.46" lengthAdjust="spacingAndGlyphs">R</text>
<text transform="translate(12.20,132.71) rotate(-90)" x="0" y="0" font-size="7.58" fill="#3c3c3c" font-family="'Liberation Serif', serif" textLength="5.57" lengthAdjust="spacingAndGlyphs" font-weight="bold">iA</text>
<text transform="translate(9.48,118.28) rotate(-90)" x="0" y="0" font-size="12.00" fill="#4a4a4a" font-family="'Liberation Serif', serif" textLength="20.88" lengthAdjust="spacingAndGlyphs">and</text>
<text transform="translate(9.30,89.99) rotate(-90)" x="0" y="0" font-size="12.46" fill="#3a3a3a" font-family="'Liberation Serif', serif" font-style="italic" textLength="7.11" lengthAdjust="spacingAndGlyphs">T</text>
<text transform="translate(12.20,81.91) rotate(-90)" x="0" y="0" font-size="7.58" fill="#3c3c3c" font-family="'Liberation Serif', serif" textLength="5.67" lengthAdjust="spacingAndGlyphs" font-weight="bold">iA</text>
<text transform="translate(9.12,398.05) rotate(-90)" x="0" y="0" font-size="13.22" fill="#3c3c3c" font-family="'Liberation Serif', serif" textLength="4.51" lengthAdjust="spacingAndGlyphs">|</text>
<text transform="translate(9.12,380.15) rotate(-90)" x="0" y="0" font-size="13.22" fill="#3c3c3c" font-family="'Liberation Serif', serif" textLength="4.51" lengthAdjust="spacingAndGlyphs">|</text>
<text transform="translate(9.30,393.70) rotate(-90)" x="0" y="0" font-size="12.46" fill="#3a3a3a" font-family="'Liberation Serif', serif" font-style="italic" textLength="7.46" lengthAdjust="spacingAndGlyphs">R</text>
<text transform="translate(12.20,385.21) rotate(-90)" x="0" y="0" font-size="7.58" fill="#3c3c3c" font-family="'Liberation Serif', serif" textLength="5.57" lengthAdjust="spacingAndGlyphs" font-weight="bold">iA</text>
<text transform="translate(9.48,370.78) rotate(-90)" x="0" y="0" font-size="12.00" fill="#4a4a4a" font-family="'Liberation Serif', serif" textLength="20.88" lengthAdjust="spacingAndGlyphs">and</text>
<text transform="translate(9.30,342.49) rotate(-90)" x="0" y="0" font-size="12.46" fill="#3a3a3a" font-family="'Liberation Serif', serif" font-style="italic" textLength="7.11" lengthAdjust="spacingAndGlyphs">T</text>
<text transform="translate(12.20,334.41) rotate(-90)" x="0" y="0" font-size="7.58" fill="#3c3c3c" font-family="'Liberation Serif', serif" textLength="5.67" lengthAdjust="spacingAndGlyphs" font-weight="bold">iA</text>
<text transform="translate(309.97,129.29) scale(1.1,1)" x="0" y="0" font-size="14.33" fill="#3c3c3c" font-family="'Liberation Serif', serif" textLength="15.45" lengthAdjust="spacing" >(a)</text>
<text transform="translate(309.84,350.74) scale(1.1,1)" x="0" y="0" font-size="12.67" fill="#3c3c3c" font-family="'Liberation Serif', serif" textLength="16.89" lengthAdjust="spacing" >(b)</text>
<text x="70.32" y="180.92" font-size="12.94" fill="#111" font-family="'DejaVu Serif', serif" textLength="12.92" lengthAdjust="spacingAndGlyphs" stroke="#111" stroke-width="0.35">A,</text>
<text x="89.38" y="180.92" font-size="12.94" fill="#2a6cf5" font-family="'DejaVu Serif', serif" textLength="13.09" lengthAdjust="spacingAndGlyphs" stroke="#2a6cf5" stroke-width="0.3">F,</text>
<text x="108.53" y="181.07" font-size="12.80" fill="#ff1a1a" font-family="'DejaVu Serif', serif" textLength="9.18" lengthAdjust="spacingAndGlyphs" stroke="#ff1a1a" stroke-width="0.3">S</text>
<text transform="translate(169.74,168.51) scale(0.97,1)" x="0" y="0" font-size="9.35" fill="#a8682c" font-family="'DejaVu Serif', serif" textLength="49.41" lengthAdjust="spacing" stroke="#a8682c" stroke-width="0.2">reflected</text>
<text transform="translate(169.84,188.51) scale(0.97,1)" x="0" y="0" font-size="9.09" fill="#a8682c" font-family="'DejaVu Serif', serif" textLength="66.96" lengthAdjust="spacing" stroke="#a8682c" stroke-width="0.2">transmitted</text></svg>
</body></html>
